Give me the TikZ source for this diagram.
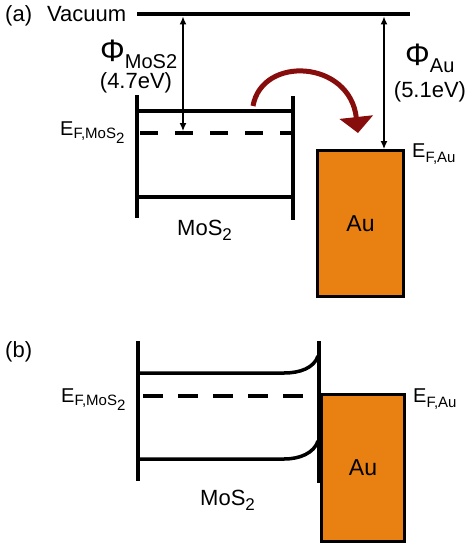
\documentclass[tikz,border=0pt]{standalone}
\usepackage{fontspec}
\setmainfont{Liberation Sans}
\usetikzlibrary{arrows.meta}
\definecolor{gold}{RGB}{232,128,18}
\definecolor{heatred}{RGB}{135,12,12}
\newcommand{\fsz}[1]{\fontsize{#1}{#1}\selectfont}
\tikzset{
  lbl/.style={inner sep=0pt, anchor=base west, font=\fsz{22}},
  band/.style={line width=3.5pt},
  wall/.style={line width=4pt},
  fermiA/.style={line width=4pt, dash pattern=on 18pt off 17pt},
  fermiB/.style={line width=4pt, dash pattern=on 20pt off 15pt},
  wf/.style={line width=1.3pt, {Latex[length=8pt,width=7pt]}-{Latex[length=8pt,width=7pt]}},
  metal/.style={draw, line width=3pt, fill=gold, inner sep=0pt, font=\fsz{23}},
  flow/.style={line width=5pt, draw=heatred, -{Triangle[length=16pt,width=33pt]}},
}
\begin{document}
\begin{tikzpicture}[x=1pt, y=-1pt]
      \useasboundingbox (0,0) rectangle (474,551);
      % (a) before contact
      \node[lbl] (tagA) at (5,22) {(a)};
      \node[lbl] (vacTxt) at (47,22) {Vacuum};
      \draw[wall] (137,14.5) -- (410,14.5);   % vacuum level
      %
      \draw[wall] (137,95) -- (137,218);      % MoS2 walls
      \draw[wall] (293,96) -- (293,220);
      \draw[band] (137,111) -- (293,111);     % bands
      \draw[band] (137,197) -- (293,197);
      \draw[fermiA] (140,133) -- (293,133);
      %
      \node[metal, minimum width=86pt, minimum height=146pt] (auA) at (360.5,223.5) {Au};
      %
      \coordinate (vacMo) at (183,16.5);
      \coordinate (efMo) at (183,131);
      \coordinate (vacAu) at (384,16.5);
      \draw[wf] (vacMo) -- (efMo);
      \draw[wf] (vacAu) -- (vacAu |- auA.north);
      %
      \coordinate (hotFrom) at (253,106);
      \coordinate (hotTo) at (358,133);
      \draw[flow] (hotFrom) .. controls (262,55) and (350,60) .. (hotTo);
      %
      \node[lbl] (phiMo) at (100,62) {{\fsz{31}Φ}\raisebox{-6pt}{\fsz{20}MoS2}};
      \node[lbl, anchor=base] (wfMo) at (136,88) {(4.7eV)};
      \node[lbl] (phiAu) at (405,65) {{\fsz{31}Φ}\raisebox{-7pt}{\fsz{20}Au}};
      \node[lbl, anchor=base] (wfAu) at (430,97) {(5.1eV)};
      \node[lbl] (efMoA) at (60,135) {\fsz{20}E\raisebox{-3.5pt}{\fsz{15}F,MoS\raisebox{-4.5pt}{2}}};
      \node[lbl] (efAuA) at (412,157) {\fsz{20}E\raisebox{-5pt}{\fsz{15}F,Au}};
      \node[lbl] (mosA) at (177,235) {MoS\raisebox{-5pt}{\fsz{17}2}};
      %%
      % (b) after contact
      \node[lbl] (tagB) at (5,357) {(b)};
      \node[metal, minimum width=83pt, minimum height=147pt] (auB) at (363,468) {Au};
      \draw[wall] (138,341) -- (138,481);     % MoS2 walls
      \draw[wall] (319,341) -- (319,483);
      \draw[band] (138,373) -- (284,373) .. controls (300,373) and (314,368) .. (318,356);
      \draw[band] (138,459) -- (284,459) .. controls (300,459) and (314,453) .. (318,441);
      \draw[fermiB] (143,396) -- (305,396);
      %
      \node[lbl] (efMoB) at (61,402) {\fsz{20}E\raisebox{-3.5pt}{\fsz{15}F,MoS\raisebox{-4.5pt}{2}}};
      \node[lbl] (efAuB) at (413,402) {\fsz{20}E\raisebox{-5pt}{\fsz{15}F,Au}};
      \node[lbl] (mosB) at (200,505) {MoS\raisebox{-5pt}{\fsz{17}2}};
      %
    \end{tikzpicture}
\end{document}
